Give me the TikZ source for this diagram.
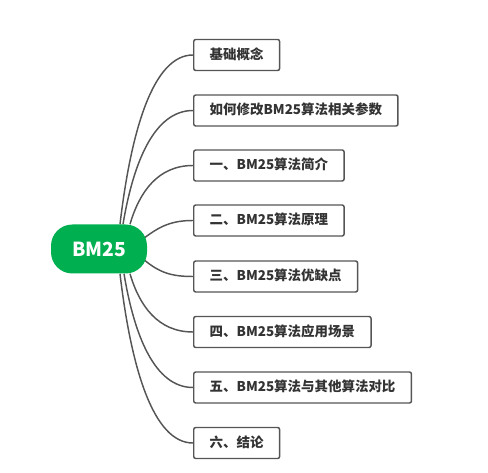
\documentclass[tikz,border=0pt]{standalone}
\usepackage{fontspec}
\setmainfont{Noto Sans CJK SC}
\usetikzlibrary{calc,backgrounds}
\definecolor{rootgreen}{RGB}{0,175,80}
\definecolor{linegray}{RGB}{85,85,85}
\definecolor{textgray}{RGB}{51,51,51}
\tikzset{
  topic/.style={draw=linegray, line width=1.1pt, fill=white, rounded corners=1.5pt,
    anchor=west, minimum height=23.25pt, inner xsep=12pt, inner ysep=0pt,
    text height=7.6pt, text depth=1.4pt, text=textgray,
    font=\fontsize{10.1pt}{12pt}\selectfont\bfseries},
  rootnode/.style={fill=rootgreen, rounded corners=16pt, minimum width=72pt,
    minimum height=36.75pt, inner sep=0pt, text=white,
    font=\fontsize{14.5pt}{16pt}\selectfont\bfseries},
  conn/.style={draw=linegray, line width=1.1pt}
}
\begin{document}
\begin{tikzpicture}[x=0.75pt,y=-0.75pt]
\useasboundingbox (0,0) rectangle (488,473);
\node[rootnode] (root) at (99,249) {BM25};
\node[topic] (b1) at (193,55) {基础概念};
\node[topic] (b2) at (193,110.5) {如何修改BM25算法相关参数};
\node[topic] (b3) at (193,165.5) {一、BM25算法简介};
\node[topic] (b4) at (193,220.5) {二、BM25算法原理};
\node[topic] (b5) at (193,276.5) {三、BM25算法优缺点};
\node[topic] (b6) at (193,332) {四、BM25算法应用场景};
\node[topic] (b7) at (193,387.5) {五、BM25算法与其他算法对比};
\node[topic] (b8) at (193,443) {六、结论};
\begin{pgfonlayer}{background}
\draw[conn] ($(root.north)+(21,0)$) .. controls (131,131) and (153,55) .. (b1.west);
\draw[conn] ($(root.north)+(24,0)$) .. controls (133.5,161.6) and (154.5,110.5) .. (b2.west);
\draw[conn] ($(root.north)+(31,0)$) .. controls (139.5,191.8) and (158,165.5) .. (b3.west);
\draw[conn] ($(root.east)+(-3,-11)$) .. controls (160,226) and (172,220.5) .. (b4.west);
\draw[conn] ($(root.east)+(-3,11)$) .. controls (160,273) and (172,276.5) .. (b5.west);
\draw[conn] ($(root.south)+(31,0)$) .. controls (139.5,306) and (158,332) .. (b6.west);
\draw[conn] ($(root.south)+(25,0)$) .. controls (134.4,336.4) and (155,387.5) .. (b7.west);
\draw[conn] ($(root.south)+(21,0)$) .. controls (131,367) and (152.9,443) .. (b8.west);
\end{pgfonlayer}
\end{tikzpicture}
\end{document}
